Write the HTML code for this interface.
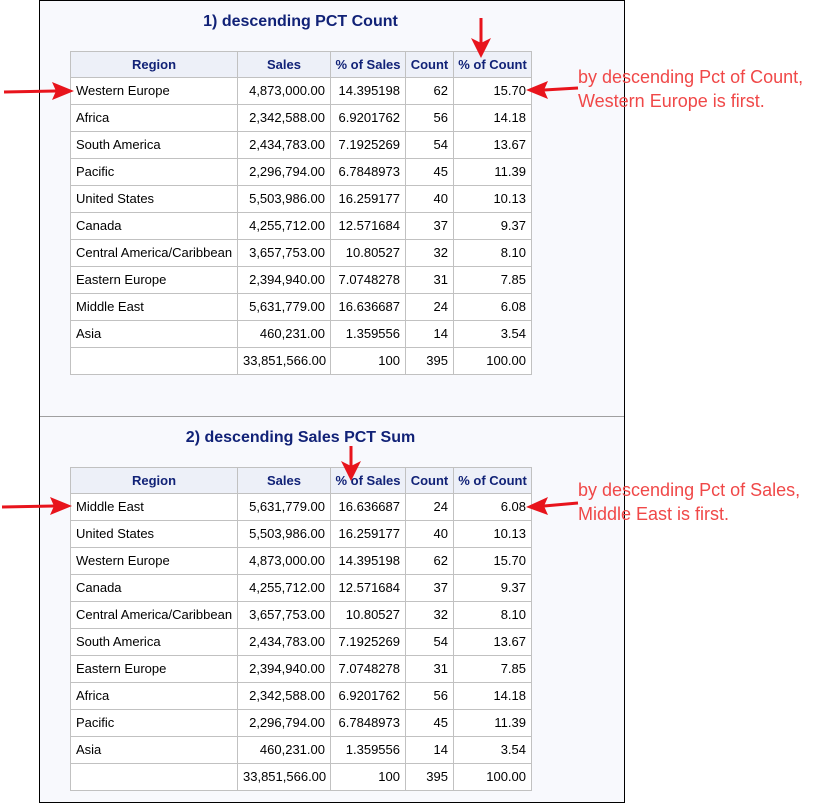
<!DOCTYPE html>
<html><head><meta charset="utf-8"><style>
body{margin:0;width:836px;height:803px;background:#fff;position:relative;overflow:hidden;font-family:"Liberation Sans",Arial,sans-serif}
.panel{position:absolute;left:39px;top:0;width:584px;height:801px;border:1px solid #000;background:#f8f9fd}
.div{position:absolute;left:40px;top:416px;width:584px;height:1px;background:#a0a0a0}
.title{position:absolute;left:70px;width:461px;text-align:center;font-weight:bold;font-size:16px;color:#112277}
table{position:absolute;left:70px;width:462px;table-layout:fixed;border-collapse:collapse;font-size:13px;background:#fff}
td,th{border:1px solid #c1c1c1;height:27px;line-height:16px;padding:0 5px;white-space:nowrap;overflow:hidden;color:#000;box-sizing:border-box}
th{background:#edf0f8;color:#112277;font-weight:bold;text-align:center;padding:0 2px;height:26px}
td{text-align:right}
td.l{text-align:left}
.note{position:absolute;left:578px;color:#f04848;font-size:18px;line-height:24px;white-space:nowrap}
svg{position:absolute;left:0;top:0}
</style></head><body>
<div class="panel"></div>
<div class="div"></div>
<div class="title" style="top:13px">1) descending PCT Count</div>
<table style="top:51px">
<colgroup><col style="width:167px"><col style="width:93px"><col style="width:75px"><col style="width:48px"><col style="width:78px"></colgroup>
<tr><th>Region</th><th>Sales</th><th>% of Sales</th><th>Count</th><th>% of Count</th></tr>
<tr><td class="l">Western Europe</td><td>4,873,000.00</td><td>14.395198</td><td>62</td><td>15.70</td></tr>
<tr><td class="l">Africa</td><td>2,342,588.00</td><td>6.9201762</td><td>56</td><td>14.18</td></tr>
<tr><td class="l">South America</td><td>2,434,783.00</td><td>7.1925269</td><td>54</td><td>13.67</td></tr>
<tr><td class="l">Pacific</td><td>2,296,794.00</td><td>6.7848973</td><td>45</td><td>11.39</td></tr>
<tr><td class="l">United States</td><td>5,503,986.00</td><td>16.259177</td><td>40</td><td>10.13</td></tr>
<tr><td class="l">Canada</td><td>4,255,712.00</td><td>12.571684</td><td>37</td><td>9.37</td></tr>
<tr><td class="l">Central America/Caribbean</td><td>3,657,753.00</td><td>10.80527</td><td>32</td><td>8.10</td></tr>
<tr><td class="l">Eastern Europe</td><td>2,394,940.00</td><td>7.0748278</td><td>31</td><td>7.85</td></tr>
<tr><td class="l">Middle East</td><td>5,631,779.00</td><td>16.636687</td><td>24</td><td>6.08</td></tr>
<tr><td class="l">Asia</td><td>460,231.00</td><td>1.359556</td><td>14</td><td>3.54</td></tr>
<tr><td class="l"></td><td>33,851,566.00</td><td>100</td><td>395</td><td>100.00</td></tr>
</table>
<div class="title" style="top:429px">2) descending Sales PCT Sum</div>
<table style="top:467px">
<colgroup><col style="width:167px"><col style="width:93px"><col style="width:75px"><col style="width:48px"><col style="width:78px"></colgroup>
<tr><th>Region</th><th>Sales</th><th>% of Sales</th><th>Count</th><th>% of Count</th></tr>
<tr><td class="l">Middle East</td><td>5,631,779.00</td><td>16.636687</td><td>24</td><td>6.08</td></tr>
<tr><td class="l">United States</td><td>5,503,986.00</td><td>16.259177</td><td>40</td><td>10.13</td></tr>
<tr><td class="l">Western Europe</td><td>4,873,000.00</td><td>14.395198</td><td>62</td><td>15.70</td></tr>
<tr><td class="l">Canada</td><td>4,255,712.00</td><td>12.571684</td><td>37</td><td>9.37</td></tr>
<tr><td class="l">Central America/Caribbean</td><td>3,657,753.00</td><td>10.80527</td><td>32</td><td>8.10</td></tr>
<tr><td class="l">South America</td><td>2,434,783.00</td><td>7.1925269</td><td>54</td><td>13.67</td></tr>
<tr><td class="l">Eastern Europe</td><td>2,394,940.00</td><td>7.0748278</td><td>31</td><td>7.85</td></tr>
<tr><td class="l">Africa</td><td>2,342,588.00</td><td>6.9201762</td><td>56</td><td>14.18</td></tr>
<tr><td class="l">Pacific</td><td>2,296,794.00</td><td>6.7848973</td><td>45</td><td>11.39</td></tr>
<tr><td class="l">Asia</td><td>460,231.00</td><td>1.359556</td><td>14</td><td>3.54</td></tr>
<tr><td class="l"></td><td>33,851,566.00</td><td>100</td><td>395</td><td>100.00</td></tr>
</table>
<div class="note" style="top:65px">by descending Pct of Count,<br>Western Europe is first.</div>
<div class="note" style="top:478px">by descending Pct of Sales,<br>Middle East is first.</div>
<svg width="836" height="803">
<g fill="#e8141c" stroke="#e8141c">
<line x1="4" y1="92" x2="56" y2="91" stroke-width="3"/><polygon points="74,91 52,82 56,91 52,100" stroke="none"/>
<line x1="481" y1="18" x2="481" y2="44" stroke-width="3"/><polygon points="481,58 471,38 481,43 491,38" stroke="none"/>
<line x1="578" y1="88" x2="544" y2="90" stroke-width="3"/><polygon points="526,90 548,81 544,90 548,99" stroke="none"/>
<line x1="2" y1="507" x2="54" y2="506" stroke-width="3"/><polygon points="72,506 50,497 54,506 50,515" stroke="none"/>
<line x1="351" y1="446" x2="351" y2="466" stroke-width="3"/><polygon points="351,481 341,461 351,466 361,461" stroke="none"/>
<line x1="578" y1="503" x2="544" y2="506" stroke-width="3"/><polygon points="526,507 548,497 544,506 548,515" stroke="none"/>
</g></svg>
</body></html>
